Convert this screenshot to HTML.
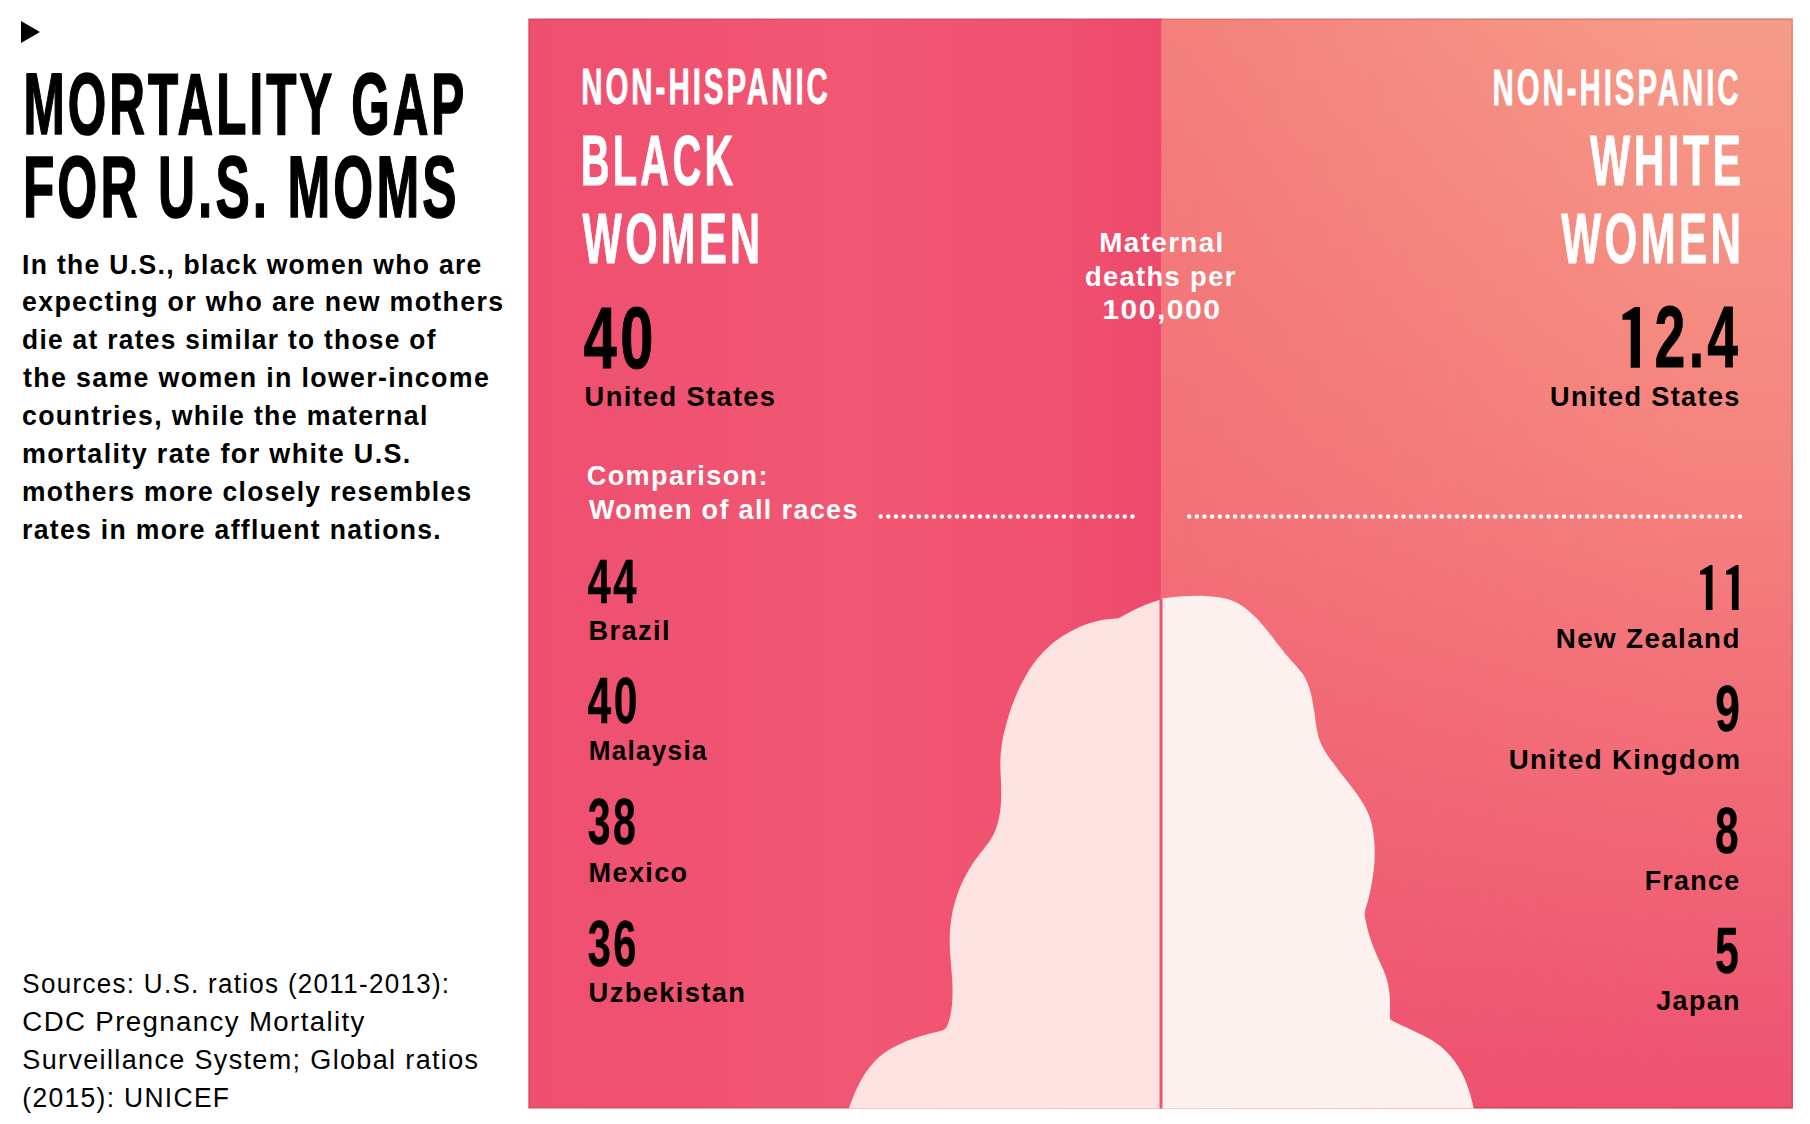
<!DOCTYPE html>
<html><head><meta charset="utf-8"><title>Mortality gap for U.S. moms</title>
<style>
html,body{margin:0;padding:0;background:#fff;width:1810px;height:1124px;overflow:hidden}
svg{display:block;font-family:"Liberation Sans",sans-serif}
</style></head><body>
<svg width="1810" height="1124" viewBox="0 0 1810 1124">
<defs>
<linearGradient id="gl" gradientUnits="userSpaceOnUse" x1="528" y1="0" x2="1160" y2="0">
<stop offset="0" stop-color="#ef4f6f"/>
<stop offset="0.5" stop-color="#f15773"/>
<stop offset="0.8" stop-color="#f05270"/>
<stop offset="1" stop-color="#ee4a6b"/>
</linearGradient>
<linearGradient id="grL" gradientUnits="userSpaceOnUse" x1="0" y1="18" x2="0" y2="1108">
<stop offset="0" stop-color="#f4807c"/>
<stop offset="0.48" stop-color="#f27078"/>
<stop offset="1" stop-color="#ee5270"/>
</linearGradient>
<linearGradient id="grR" gradientUnits="userSpaceOnUse" x1="0" y1="18" x2="0" y2="1108">
<stop offset="0" stop-color="#f69b88"/>
<stop offset="0.4" stop-color="#f5847e"/>
<stop offset="1" stop-color="#ee5170"/>
</linearGradient>
<linearGradient id="gmask" gradientUnits="userSpaceOnUse" x1="1160" y1="0" x2="1793" y2="0">
<stop offset="0" stop-color="#000"/>
<stop offset="0.85" stop-color="#fff"/>
<stop offset="1" stop-color="#fff"/>
</linearGradient>
<mask id="mr" maskUnits="userSpaceOnUse" x="1160" y="0" width="650" height="1124"><rect x="1160" y="0" width="650" height="1124" fill="url(#gmask)"/></mask>
<clipPath id="cl"><rect x="500" y="0" width="660.5" height="1124"/></clipPath>
<clipPath id="cr"><rect x="1160.5" y="0" width="700" height="1124"/></clipPath>
<clipPath id="cpanel"><rect x="528.3" y="18.5" width="1264.7" height="1090"/></clipPath>
<clipPath id="csil"><path d="M1161.0,598.5 C1163.5,598.2 1171.1,597.1 1176.2,596.7 C1181.4,596.2 1186.7,596.0 1192.0,595.9 C1197.3,595.8 1202.9,595.9 1208.0,596.2 C1213.1,596.5 1218.2,597.0 1222.7,597.9 C1227.1,598.8 1230.9,600.0 1234.7,601.7 C1238.5,603.4 1241.8,605.5 1245.4,608.2 C1249.0,610.9 1252.5,614.2 1256.1,617.8 C1259.7,621.4 1263.2,625.8 1266.8,630.1 C1270.3,634.4 1274.0,639.3 1277.4,643.7 C1280.9,648.1 1284.4,652.6 1287.5,656.2 C1290.7,659.9 1293.6,663.0 1296.1,665.9 C1298.6,668.7 1300.6,670.9 1302.5,673.6 C1304.3,676.3 1305.7,679.0 1307.0,681.9 C1308.3,684.8 1309.3,687.8 1310.2,691.1 C1311.1,694.3 1311.8,697.4 1312.5,701.2 C1313.3,705.1 1313.9,709.5 1314.6,714.0 C1315.3,718.5 1315.7,723.5 1316.6,728.0 C1317.5,732.5 1318.2,736.7 1319.8,740.8 C1321.4,745.0 1323.4,748.7 1326.0,752.9 C1328.6,757.0 1331.9,761.2 1335.2,765.7 C1338.5,770.2 1342.4,775.0 1346.0,779.7 C1349.6,784.4 1353.6,789.3 1356.9,794.1 C1360.2,798.9 1363.4,803.5 1365.9,808.5 C1368.4,813.5 1370.3,818.6 1371.7,824.1 C1373.1,829.6 1373.8,836.0 1374.3,841.8 C1374.8,847.5 1374.7,853.5 1374.6,858.7 C1374.4,864.0 1373.9,868.5 1373.3,873.2 C1372.7,877.9 1371.9,882.6 1371.0,887.2 C1370.1,891.8 1369.0,896.5 1368.0,900.8 C1367.0,905.1 1365.0,908.7 1364.8,912.8 C1364.6,916.9 1365.6,920.7 1366.6,925.2 C1367.6,929.7 1369.1,935.0 1370.8,940.0 C1372.5,945.0 1374.8,950.5 1376.8,955.2 C1378.8,959.9 1381.0,964.1 1382.8,968.4 C1384.6,972.7 1386.3,976.6 1387.4,981.2 C1388.5,985.8 1389.2,991.3 1389.7,996.0 C1390.1,1000.7 1390.0,1005.8 1390.1,1009.5 C1390.1,1013.2 1389.6,1016.1 1390.0,1018.0 C1390.4,1019.9 1389.8,1019.1 1392.5,1020.7 C1395.2,1022.3 1401.9,1025.4 1406.5,1027.6 C1411.1,1029.8 1415.7,1031.9 1420.0,1034.0 C1424.3,1036.1 1428.6,1038.1 1432.3,1040.5 C1436.0,1042.8 1439.2,1045.2 1442.3,1047.8 C1445.4,1050.5 1448.1,1053.4 1450.8,1056.5 C1453.4,1059.6 1455.9,1063.0 1458.1,1066.5 C1460.3,1070.0 1462.2,1073.5 1464.1,1077.6 C1465.9,1081.7 1467.6,1086.4 1469.1,1091.1 C1470.6,1095.7 1472.0,1101.3 1473.1,1105.5 C1474.1,1109.6 1475.1,1114.2 1475.5,1116.0 L1475.5,1116 L846.5,1116 L846.5,1116.0 C847.0,1114.4 848.5,1109.6 849.7,1106.1 C851.0,1102.7 852.3,1098.9 853.8,1095.3 C855.3,1091.7 857.0,1088.0 858.8,1084.5 C860.5,1081.1 862.4,1077.7 864.4,1074.5 C866.5,1071.3 868.7,1068.2 871.2,1065.2 C873.6,1062.3 876.3,1059.5 879.2,1056.9 C882.2,1054.4 885.5,1052.0 889.0,1049.8 C892.5,1047.7 896.3,1045.7 900.2,1043.9 C904.0,1042.1 908.1,1040.5 912.1,1039.0 C916.0,1037.6 920.1,1036.4 923.8,1035.3 C927.5,1034.2 931.0,1033.4 934.3,1032.5 C937.6,1031.6 941.1,1031.1 943.3,1030.0 C945.5,1028.9 946.2,1027.9 947.3,1025.6 C948.4,1023.3 949.3,1020.1 950.1,1016.4 C950.9,1012.7 951.7,1008.3 952.1,1003.3 C952.5,998.4 952.6,992.5 952.5,986.8 C952.4,981.1 951.8,975.0 951.4,969.1 C951.0,963.2 950.3,957.3 950.0,951.3 C949.8,945.4 949.5,939.5 949.8,933.6 C950.1,927.6 950.7,921.7 951.8,915.8 C952.8,909.9 954.3,903.9 956.2,898.1 C958.0,892.3 960.4,886.4 962.9,881.1 C965.3,875.8 968.3,870.7 971.0,866.2 C973.7,861.8 976.6,858.0 979.3,854.4 C981.9,850.9 984.5,848.1 986.7,844.9 C989.0,841.7 991.2,838.9 993.0,835.4 C994.7,831.9 996.3,828.2 997.5,824.1 C998.7,820.0 999.6,815.5 1000.2,810.9 C1000.8,806.2 1001.1,801.3 1001.2,796.4 C1001.3,791.6 1001.1,786.6 1001.0,781.8 C1000.8,776.9 1000.4,772.2 1000.4,767.5 C1000.3,762.8 1000.3,758.3 1000.7,753.7 C1001.1,749.1 1001.8,744.4 1002.6,739.8 C1003.4,735.2 1004.6,730.4 1005.8,726.0 C1006.9,721.6 1008.1,717.3 1009.5,713.2 C1010.8,709.0 1012.1,705.1 1013.8,701.0 C1015.4,696.9 1017.2,692.7 1019.1,688.5 C1021.1,684.4 1023.4,680.0 1025.7,676.0 C1028.1,671.9 1030.6,667.9 1033.3,664.1 C1036.0,660.4 1039.0,656.7 1042.1,653.3 C1045.3,649.8 1048.7,646.5 1052.2,643.6 C1055.7,640.7 1059.4,638.0 1063.1,635.7 C1066.8,633.3 1070.6,631.2 1074.3,629.4 C1078.1,627.5 1081.9,625.9 1085.6,624.5 C1089.3,623.2 1093.0,622.0 1096.6,621.2 C1100.2,620.3 1103.8,619.7 1107.3,619.2 C1110.9,618.8 1115.4,618.9 1118.0,618.3 C1120.6,617.7 1121.0,616.8 1123.0,615.7 C1125.1,614.7 1127.5,613.3 1130.2,611.9 C1133.0,610.5 1136.4,608.8 1139.7,607.3 C1143.0,605.9 1146.6,604.4 1150.2,603.1 C1153.7,601.8 1159.2,600.2 1161.0,599.6 Z"/></clipPath>
</defs>
<polygon points="21,21 21,43 40,32" fill="#000"/>
<rect x="528.3" y="18.5" width="632.2" height="1090" fill="url(#gl)"/>
<rect x="1160.5" y="18.5" width="632.5" height="1090" fill="url(#grL)"/>
<rect x="1160.5" y="18.5" width="632.5" height="1090" fill="url(#grR)" mask="url(#mr)"/>
<rect x="1160" y="18.5" width="1" height="1090" fill="#e6506a"/>
<rect x="1161" y="18.5" width="1" height="1090" fill="#ff6c7e"/>
<rect x="529.3" y="19.5" width="1262.7" height="1088" fill="none" stroke="rgba(90,50,55,0.2)" stroke-width="1"/>
<g clip-path="url(#cpanel)">
<path d="M1161.0,598.5 C1163.5,598.2 1171.1,597.1 1176.2,596.7 C1181.4,596.2 1186.7,596.0 1192.0,595.9 C1197.3,595.8 1202.9,595.9 1208.0,596.2 C1213.1,596.5 1218.2,597.0 1222.7,597.9 C1227.1,598.8 1230.9,600.0 1234.7,601.7 C1238.5,603.4 1241.8,605.5 1245.4,608.2 C1249.0,610.9 1252.5,614.2 1256.1,617.8 C1259.7,621.4 1263.2,625.8 1266.8,630.1 C1270.3,634.4 1274.0,639.3 1277.4,643.7 C1280.9,648.1 1284.4,652.6 1287.5,656.2 C1290.7,659.9 1293.6,663.0 1296.1,665.9 C1298.6,668.7 1300.6,670.9 1302.5,673.6 C1304.3,676.3 1305.7,679.0 1307.0,681.9 C1308.3,684.8 1309.3,687.8 1310.2,691.1 C1311.1,694.3 1311.8,697.4 1312.5,701.2 C1313.3,705.1 1313.9,709.5 1314.6,714.0 C1315.3,718.5 1315.7,723.5 1316.6,728.0 C1317.5,732.5 1318.2,736.7 1319.8,740.8 C1321.4,745.0 1323.4,748.7 1326.0,752.9 C1328.6,757.0 1331.9,761.2 1335.2,765.7 C1338.5,770.2 1342.4,775.0 1346.0,779.7 C1349.6,784.4 1353.6,789.3 1356.9,794.1 C1360.2,798.9 1363.4,803.5 1365.9,808.5 C1368.4,813.5 1370.3,818.6 1371.7,824.1 C1373.1,829.6 1373.8,836.0 1374.3,841.8 C1374.8,847.5 1374.7,853.5 1374.6,858.7 C1374.4,864.0 1373.9,868.5 1373.3,873.2 C1372.7,877.9 1371.9,882.6 1371.0,887.2 C1370.1,891.8 1369.0,896.5 1368.0,900.8 C1367.0,905.1 1365.0,908.7 1364.8,912.8 C1364.6,916.9 1365.6,920.7 1366.6,925.2 C1367.6,929.7 1369.1,935.0 1370.8,940.0 C1372.5,945.0 1374.8,950.5 1376.8,955.2 C1378.8,959.9 1381.0,964.1 1382.8,968.4 C1384.6,972.7 1386.3,976.6 1387.4,981.2 C1388.5,985.8 1389.2,991.3 1389.7,996.0 C1390.1,1000.7 1390.0,1005.8 1390.1,1009.5 C1390.1,1013.2 1389.6,1016.1 1390.0,1018.0 C1390.4,1019.9 1389.8,1019.1 1392.5,1020.7 C1395.2,1022.3 1401.9,1025.4 1406.5,1027.6 C1411.1,1029.8 1415.7,1031.9 1420.0,1034.0 C1424.3,1036.1 1428.6,1038.1 1432.3,1040.5 C1436.0,1042.8 1439.2,1045.2 1442.3,1047.8 C1445.4,1050.5 1448.1,1053.4 1450.8,1056.5 C1453.4,1059.6 1455.9,1063.0 1458.1,1066.5 C1460.3,1070.0 1462.2,1073.5 1464.1,1077.6 C1465.9,1081.7 1467.6,1086.4 1469.1,1091.1 C1470.6,1095.7 1472.0,1101.3 1473.1,1105.5 C1474.1,1109.6 1475.1,1114.2 1475.5,1116.0 L1475.5,1116 L846.5,1116 L846.5,1116.0 C847.0,1114.4 848.5,1109.6 849.7,1106.1 C851.0,1102.7 852.3,1098.9 853.8,1095.3 C855.3,1091.7 857.0,1088.0 858.8,1084.5 C860.5,1081.1 862.4,1077.7 864.4,1074.5 C866.5,1071.3 868.7,1068.2 871.2,1065.2 C873.6,1062.3 876.3,1059.5 879.2,1056.9 C882.2,1054.4 885.5,1052.0 889.0,1049.8 C892.5,1047.7 896.3,1045.7 900.2,1043.9 C904.0,1042.1 908.1,1040.5 912.1,1039.0 C916.0,1037.6 920.1,1036.4 923.8,1035.3 C927.5,1034.2 931.0,1033.4 934.3,1032.5 C937.6,1031.6 941.1,1031.1 943.3,1030.0 C945.5,1028.9 946.2,1027.9 947.3,1025.6 C948.4,1023.3 949.3,1020.1 950.1,1016.4 C950.9,1012.7 951.7,1008.3 952.1,1003.3 C952.5,998.4 952.6,992.5 952.5,986.8 C952.4,981.1 951.8,975.0 951.4,969.1 C951.0,963.2 950.3,957.3 950.0,951.3 C949.8,945.4 949.5,939.5 949.8,933.6 C950.1,927.6 950.7,921.7 951.8,915.8 C952.8,909.9 954.3,903.9 956.2,898.1 C958.0,892.3 960.4,886.4 962.9,881.1 C965.3,875.8 968.3,870.7 971.0,866.2 C973.7,861.8 976.6,858.0 979.3,854.4 C981.9,850.9 984.5,848.1 986.7,844.9 C989.0,841.7 991.2,838.9 993.0,835.4 C994.7,831.9 996.3,828.2 997.5,824.1 C998.7,820.0 999.6,815.5 1000.2,810.9 C1000.8,806.2 1001.1,801.3 1001.2,796.4 C1001.3,791.6 1001.1,786.6 1001.0,781.8 C1000.8,776.9 1000.4,772.2 1000.4,767.5 C1000.3,762.8 1000.3,758.3 1000.7,753.7 C1001.1,749.1 1001.8,744.4 1002.6,739.8 C1003.4,735.2 1004.6,730.4 1005.8,726.0 C1006.9,721.6 1008.1,717.3 1009.5,713.2 C1010.8,709.0 1012.1,705.1 1013.8,701.0 C1015.4,696.9 1017.2,692.7 1019.1,688.5 C1021.1,684.4 1023.4,680.0 1025.7,676.0 C1028.1,671.9 1030.6,667.9 1033.3,664.1 C1036.0,660.4 1039.0,656.7 1042.1,653.3 C1045.3,649.8 1048.7,646.5 1052.2,643.6 C1055.7,640.7 1059.4,638.0 1063.1,635.7 C1066.8,633.3 1070.6,631.2 1074.3,629.4 C1078.1,627.5 1081.9,625.9 1085.6,624.5 C1089.3,623.2 1093.0,622.0 1096.6,621.2 C1100.2,620.3 1103.8,619.7 1107.3,619.2 C1110.9,618.8 1115.4,618.9 1118.0,618.3 C1120.6,617.7 1121.0,616.8 1123.0,615.7 C1125.1,614.7 1127.5,613.3 1130.2,611.9 C1133.0,610.5 1136.4,608.8 1139.7,607.3 C1143.0,605.9 1146.6,604.4 1150.2,603.1 C1153.7,601.8 1159.2,600.2 1161.0,599.6 Z" fill="#fde2e2" clip-path="url(#cl)"/>
<path d="M1161.0,598.5 C1163.5,598.2 1171.1,597.1 1176.2,596.7 C1181.4,596.2 1186.7,596.0 1192.0,595.9 C1197.3,595.8 1202.9,595.9 1208.0,596.2 C1213.1,596.5 1218.2,597.0 1222.7,597.9 C1227.1,598.8 1230.9,600.0 1234.7,601.7 C1238.5,603.4 1241.8,605.5 1245.4,608.2 C1249.0,610.9 1252.5,614.2 1256.1,617.8 C1259.7,621.4 1263.2,625.8 1266.8,630.1 C1270.3,634.4 1274.0,639.3 1277.4,643.7 C1280.9,648.1 1284.4,652.6 1287.5,656.2 C1290.7,659.9 1293.6,663.0 1296.1,665.9 C1298.6,668.7 1300.6,670.9 1302.5,673.6 C1304.3,676.3 1305.7,679.0 1307.0,681.9 C1308.3,684.8 1309.3,687.8 1310.2,691.1 C1311.1,694.3 1311.8,697.4 1312.5,701.2 C1313.3,705.1 1313.9,709.5 1314.6,714.0 C1315.3,718.5 1315.7,723.5 1316.6,728.0 C1317.5,732.5 1318.2,736.7 1319.8,740.8 C1321.4,745.0 1323.4,748.7 1326.0,752.9 C1328.6,757.0 1331.9,761.2 1335.2,765.7 C1338.5,770.2 1342.4,775.0 1346.0,779.7 C1349.6,784.4 1353.6,789.3 1356.9,794.1 C1360.2,798.9 1363.4,803.5 1365.9,808.5 C1368.4,813.5 1370.3,818.6 1371.7,824.1 C1373.1,829.6 1373.8,836.0 1374.3,841.8 C1374.8,847.5 1374.7,853.5 1374.6,858.7 C1374.4,864.0 1373.9,868.5 1373.3,873.2 C1372.7,877.9 1371.9,882.6 1371.0,887.2 C1370.1,891.8 1369.0,896.5 1368.0,900.8 C1367.0,905.1 1365.0,908.7 1364.8,912.8 C1364.6,916.9 1365.6,920.7 1366.6,925.2 C1367.6,929.7 1369.1,935.0 1370.8,940.0 C1372.5,945.0 1374.8,950.5 1376.8,955.2 C1378.8,959.9 1381.0,964.1 1382.8,968.4 C1384.6,972.7 1386.3,976.6 1387.4,981.2 C1388.5,985.8 1389.2,991.3 1389.7,996.0 C1390.1,1000.7 1390.0,1005.8 1390.1,1009.5 C1390.1,1013.2 1389.6,1016.1 1390.0,1018.0 C1390.4,1019.9 1389.8,1019.1 1392.5,1020.7 C1395.2,1022.3 1401.9,1025.4 1406.5,1027.6 C1411.1,1029.8 1415.7,1031.9 1420.0,1034.0 C1424.3,1036.1 1428.6,1038.1 1432.3,1040.5 C1436.0,1042.8 1439.2,1045.2 1442.3,1047.8 C1445.4,1050.5 1448.1,1053.4 1450.8,1056.5 C1453.4,1059.6 1455.9,1063.0 1458.1,1066.5 C1460.3,1070.0 1462.2,1073.5 1464.1,1077.6 C1465.9,1081.7 1467.6,1086.4 1469.1,1091.1 C1470.6,1095.7 1472.0,1101.3 1473.1,1105.5 C1474.1,1109.6 1475.1,1114.2 1475.5,1116.0 L1475.5,1116 L846.5,1116 L846.5,1116.0 C847.0,1114.4 848.5,1109.6 849.7,1106.1 C851.0,1102.7 852.3,1098.9 853.8,1095.3 C855.3,1091.7 857.0,1088.0 858.8,1084.5 C860.5,1081.1 862.4,1077.7 864.4,1074.5 C866.5,1071.3 868.7,1068.2 871.2,1065.2 C873.6,1062.3 876.3,1059.5 879.2,1056.9 C882.2,1054.4 885.5,1052.0 889.0,1049.8 C892.5,1047.7 896.3,1045.7 900.2,1043.9 C904.0,1042.1 908.1,1040.5 912.1,1039.0 C916.0,1037.6 920.1,1036.4 923.8,1035.3 C927.5,1034.2 931.0,1033.4 934.3,1032.5 C937.6,1031.6 941.1,1031.1 943.3,1030.0 C945.5,1028.9 946.2,1027.9 947.3,1025.6 C948.4,1023.3 949.3,1020.1 950.1,1016.4 C950.9,1012.7 951.7,1008.3 952.1,1003.3 C952.5,998.4 952.6,992.5 952.5,986.8 C952.4,981.1 951.8,975.0 951.4,969.1 C951.0,963.2 950.3,957.3 950.0,951.3 C949.8,945.4 949.5,939.5 949.8,933.6 C950.1,927.6 950.7,921.7 951.8,915.8 C952.8,909.9 954.3,903.9 956.2,898.1 C958.0,892.3 960.4,886.4 962.9,881.1 C965.3,875.8 968.3,870.7 971.0,866.2 C973.7,861.8 976.6,858.0 979.3,854.4 C981.9,850.9 984.5,848.1 986.7,844.9 C989.0,841.7 991.2,838.9 993.0,835.4 C994.7,831.9 996.3,828.2 997.5,824.1 C998.7,820.0 999.6,815.5 1000.2,810.9 C1000.8,806.2 1001.1,801.3 1001.2,796.4 C1001.3,791.6 1001.1,786.6 1001.0,781.8 C1000.8,776.9 1000.4,772.2 1000.4,767.5 C1000.3,762.8 1000.3,758.3 1000.7,753.7 C1001.1,749.1 1001.8,744.4 1002.6,739.8 C1003.4,735.2 1004.6,730.4 1005.8,726.0 C1006.9,721.6 1008.1,717.3 1009.5,713.2 C1010.8,709.0 1012.1,705.1 1013.8,701.0 C1015.4,696.9 1017.2,692.7 1019.1,688.5 C1021.1,684.4 1023.4,680.0 1025.7,676.0 C1028.1,671.9 1030.6,667.9 1033.3,664.1 C1036.0,660.4 1039.0,656.7 1042.1,653.3 C1045.3,649.8 1048.7,646.5 1052.2,643.6 C1055.7,640.7 1059.4,638.0 1063.1,635.7 C1066.8,633.3 1070.6,631.2 1074.3,629.4 C1078.1,627.5 1081.9,625.9 1085.6,624.5 C1089.3,623.2 1093.0,622.0 1096.6,621.2 C1100.2,620.3 1103.8,619.7 1107.3,619.2 C1110.9,618.8 1115.4,618.9 1118.0,618.3 C1120.6,617.7 1121.0,616.8 1123.0,615.7 C1125.1,614.7 1127.5,613.3 1130.2,611.9 C1133.0,610.5 1136.4,608.8 1139.7,607.3 C1143.0,605.9 1146.6,604.4 1150.2,603.1 C1153.7,601.8 1159.2,600.2 1161.0,599.6 Z" fill="#fdf1f0" clip-path="url(#cr)"/>
<rect x="1159.5" y="560" width="3" height="560" fill="#e9566d" clip-path="url(#csil)"/>
</g>
<g fill="#000">
<polygon points="1622.4,314.7 1634.7,307 1640,307 1640,367.7 1630.7,367.7 1630.7,319.7 1622.4,319.7"/>
<polygon points="1700.1,570.9 1710.2,565.1 1712.5,565.1 1712.5,609.9 1705.9,609.9 1705.9,574.4 1700.1,574.4"/>
<polygon points="1726.1,570.9 1736.2,565.1 1738.6,565.1 1738.6,609.9 1731.9,609.9 1731.9,574.4 1726.1,574.4"/>
</g>
<g fill="#fff"><circle cx="880.70" cy="516.5" r="2.2"/><circle cx="888.33" cy="516.5" r="2.2"/><circle cx="895.96" cy="516.5" r="2.2"/><circle cx="903.59" cy="516.5" r="2.2"/><circle cx="911.22" cy="516.5" r="2.2"/><circle cx="918.85" cy="516.5" r="2.2"/><circle cx="926.48" cy="516.5" r="2.2"/><circle cx="934.11" cy="516.5" r="2.2"/><circle cx="941.74" cy="516.5" r="2.2"/><circle cx="949.37" cy="516.5" r="2.2"/><circle cx="957.00" cy="516.5" r="2.2"/><circle cx="964.63" cy="516.5" r="2.2"/><circle cx="972.26" cy="516.5" r="2.2"/><circle cx="979.89" cy="516.5" r="2.2"/><circle cx="987.52" cy="516.5" r="2.2"/><circle cx="995.15" cy="516.5" r="2.2"/><circle cx="1002.78" cy="516.5" r="2.2"/><circle cx="1010.42" cy="516.5" r="2.2"/><circle cx="1018.05" cy="516.5" r="2.2"/><circle cx="1025.68" cy="516.5" r="2.2"/><circle cx="1033.31" cy="516.5" r="2.2"/><circle cx="1040.94" cy="516.5" r="2.2"/><circle cx="1048.57" cy="516.5" r="2.2"/><circle cx="1056.20" cy="516.5" r="2.2"/><circle cx="1063.83" cy="516.5" r="2.2"/><circle cx="1071.46" cy="516.5" r="2.2"/><circle cx="1079.09" cy="516.5" r="2.2"/><circle cx="1086.72" cy="516.5" r="2.2"/><circle cx="1094.35" cy="516.5" r="2.2"/><circle cx="1101.98" cy="516.5" r="2.2"/><circle cx="1109.61" cy="516.5" r="2.2"/><circle cx="1117.24" cy="516.5" r="2.2"/><circle cx="1124.87" cy="516.5" r="2.2"/><circle cx="1132.50" cy="516.5" r="2.2"/><circle cx="1189.20" cy="516.5" r="2.2"/><circle cx="1196.85" cy="516.5" r="2.2"/><circle cx="1204.50" cy="516.5" r="2.2"/><circle cx="1212.15" cy="516.5" r="2.2"/><circle cx="1219.80" cy="516.5" r="2.2"/><circle cx="1227.45" cy="516.5" r="2.2"/><circle cx="1235.10" cy="516.5" r="2.2"/><circle cx="1242.75" cy="516.5" r="2.2"/><circle cx="1250.40" cy="516.5" r="2.2"/><circle cx="1258.05" cy="516.5" r="2.2"/><circle cx="1265.70" cy="516.5" r="2.2"/><circle cx="1273.35" cy="516.5" r="2.2"/><circle cx="1281.00" cy="516.5" r="2.2"/><circle cx="1288.65" cy="516.5" r="2.2"/><circle cx="1296.30" cy="516.5" r="2.2"/><circle cx="1303.95" cy="516.5" r="2.2"/><circle cx="1311.60" cy="516.5" r="2.2"/><circle cx="1319.25" cy="516.5" r="2.2"/><circle cx="1326.90" cy="516.5" r="2.2"/><circle cx="1334.55" cy="516.5" r="2.2"/><circle cx="1342.20" cy="516.5" r="2.2"/><circle cx="1349.85" cy="516.5" r="2.2"/><circle cx="1357.50" cy="516.5" r="2.2"/><circle cx="1365.15" cy="516.5" r="2.2"/><circle cx="1372.80" cy="516.5" r="2.2"/><circle cx="1380.45" cy="516.5" r="2.2"/><circle cx="1388.10" cy="516.5" r="2.2"/><circle cx="1395.75" cy="516.5" r="2.2"/><circle cx="1403.40" cy="516.5" r="2.2"/><circle cx="1411.05" cy="516.5" r="2.2"/><circle cx="1418.70" cy="516.5" r="2.2"/><circle cx="1426.35" cy="516.5" r="2.2"/><circle cx="1434.00" cy="516.5" r="2.2"/><circle cx="1441.65" cy="516.5" r="2.2"/><circle cx="1449.30" cy="516.5" r="2.2"/><circle cx="1456.95" cy="516.5" r="2.2"/><circle cx="1464.60" cy="516.5" r="2.2"/><circle cx="1472.25" cy="516.5" r="2.2"/><circle cx="1479.90" cy="516.5" r="2.2"/><circle cx="1487.55" cy="516.5" r="2.2"/><circle cx="1495.20" cy="516.5" r="2.2"/><circle cx="1502.85" cy="516.5" r="2.2"/><circle cx="1510.50" cy="516.5" r="2.2"/><circle cx="1518.15" cy="516.5" r="2.2"/><circle cx="1525.80" cy="516.5" r="2.2"/><circle cx="1533.45" cy="516.5" r="2.2"/><circle cx="1541.10" cy="516.5" r="2.2"/><circle cx="1548.75" cy="516.5" r="2.2"/><circle cx="1556.40" cy="516.5" r="2.2"/><circle cx="1564.05" cy="516.5" r="2.2"/><circle cx="1571.70" cy="516.5" r="2.2"/><circle cx="1579.35" cy="516.5" r="2.2"/><circle cx="1587.00" cy="516.5" r="2.2"/><circle cx="1594.65" cy="516.5" r="2.2"/><circle cx="1602.30" cy="516.5" r="2.2"/><circle cx="1609.95" cy="516.5" r="2.2"/><circle cx="1617.60" cy="516.5" r="2.2"/><circle cx="1625.25" cy="516.5" r="2.2"/><circle cx="1632.90" cy="516.5" r="2.2"/><circle cx="1640.55" cy="516.5" r="2.2"/><circle cx="1648.20" cy="516.5" r="2.2"/><circle cx="1655.85" cy="516.5" r="2.2"/><circle cx="1663.50" cy="516.5" r="2.2"/><circle cx="1671.15" cy="516.5" r="2.2"/><circle cx="1678.80" cy="516.5" r="2.2"/><circle cx="1686.45" cy="516.5" r="2.2"/><circle cx="1694.10" cy="516.5" r="2.2"/><circle cx="1701.75" cy="516.5" r="2.2"/><circle cx="1709.40" cy="516.5" r="2.2"/><circle cx="1717.05" cy="516.5" r="2.2"/><circle cx="1724.70" cy="516.5" r="2.2"/><circle cx="1732.35" cy="516.5" r="2.2"/><circle cx="1740.00" cy="516.5" r="2.2"/></g>
<text id="t1" x="23.61" y="134.20" font-size="86.34" font-weight="700" fill="#000" stroke="#000" stroke-width="1.6" stroke-linejoin="round" letter-spacing="5.18" textLength="443.74" lengthAdjust="spacingAndGlyphs">MORTALITY GAP</text>
<text id="t2" x="22.90" y="216.70" font-size="86.34" font-weight="700" fill="#000" stroke="#000" stroke-width="1.6" stroke-linejoin="round" letter-spacing="5.18" textLength="436.69" lengthAdjust="spacingAndGlyphs">FOR U.S. MOMS</text>
<text id="b1" x="22.04" y="273.50" font-size="28.20" font-weight="700" fill="#000" letter-spacing="1.41" textLength="460.65" lengthAdjust="spacingAndGlyphs">In the U.S., black women who are</text>
<text id="b2" x="22.03" y="311.40" font-size="28.20" font-weight="700" fill="#000" letter-spacing="1.41" textLength="482.37" lengthAdjust="spacingAndGlyphs">expecting or who are new mothers</text>
<text id="b3" x="22.05" y="349.30" font-size="28.20" font-weight="700" fill="#000" letter-spacing="1.41" textLength="414.72" lengthAdjust="spacingAndGlyphs">die at rates similar to those of</text>
<text id="b4" x="23.00" y="387.20" font-size="28.20" font-weight="700" fill="#000" letter-spacing="1.41" textLength="467.11" lengthAdjust="spacingAndGlyphs">the same women in lower-income</text>
<text id="b5" x="22.03" y="425.10" font-size="28.20" font-weight="700" fill="#000" letter-spacing="1.41" textLength="406.64" lengthAdjust="spacingAndGlyphs">countries, while the maternal</text>
<text id="b6" x="22.03" y="463.00" font-size="28.20" font-weight="700" fill="#000" letter-spacing="1.41" textLength="389.68" lengthAdjust="spacingAndGlyphs">mortality rate for white U.S.</text>
<text id="b7" x="22.05" y="500.90" font-size="28.20" font-weight="700" fill="#000" letter-spacing="1.41" textLength="450.44" lengthAdjust="spacingAndGlyphs">mothers more closely resembles</text>
<text id="b8" x="22.04" y="538.80" font-size="28.20" font-weight="700" fill="#000" letter-spacing="1.41" textLength="420.01" lengthAdjust="spacingAndGlyphs">rates in more affluent nations.</text>
<text id="s1" x="22.36" y="992.80" font-size="27.62" font-weight="400" fill="#000" letter-spacing="1.38" textLength="428.01" lengthAdjust="spacingAndGlyphs">Sources: U.S. ratios (2011-2013):</text>
<text id="s2" x="22.30" y="1031.00" font-size="27.62" font-weight="400" fill="#000" letter-spacing="1.38" textLength="343.49" lengthAdjust="spacingAndGlyphs">CDC Pregnancy Mortality</text>
<text id="s3" x="22.32" y="1069.00" font-size="27.62" font-weight="400" fill="#000" letter-spacing="1.38" textLength="457.12" lengthAdjust="spacingAndGlyphs">Surveillance System; Global ratios</text>
<text id="s4" x="22.34" y="1107.00" font-size="27.62" font-weight="400" fill="#000" letter-spacing="1.38" textLength="208.01" lengthAdjust="spacingAndGlyphs">(2015): UNICEF</text>
<text id="nh1" x="581.18" y="104.40" font-size="50.29" font-weight="700" fill="#fff" stroke="#fff" stroke-width="0.8" stroke-linejoin="round" letter-spacing="5.03" textLength="249.63" lengthAdjust="spacingAndGlyphs">NON-HISPANIC</text>
<text id="bl" x="580.76" y="184.50" font-size="69.77" font-weight="700" fill="#fff" stroke="#fff" stroke-width="1.0" stroke-linejoin="round" letter-spacing="5.58" textLength="155.68" lengthAdjust="spacingAndGlyphs">BLACK</text>
<text id="wo1" x="582.50" y="263.30" font-size="69.77" font-weight="700" fill="#fff" stroke="#fff" stroke-width="1.0" stroke-linejoin="round" letter-spacing="5.58" textLength="180.92" lengthAdjust="spacingAndGlyphs">WOMEN</text>
<text id="n40" x="583.58" y="367.85" font-size="87.36" font-weight="700" fill="#000" stroke="#000" stroke-width="0.9" stroke-linejoin="round" letter-spacing="5.24" textLength="73.58" lengthAdjust="spacingAndGlyphs">40</text>
<text id="us1" x="584.62" y="405.60" font-size="28.20" font-weight="700" fill="#000" letter-spacing="1.41" textLength="191.72" lengthAdjust="spacingAndGlyphs">United States</text>
<text id="cmp" x="586.77" y="484.60" font-size="26.74" font-weight="700" fill="#fff" letter-spacing="1.34" textLength="182.09" lengthAdjust="spacingAndGlyphs">Comparison:</text>
<text id="wor" x="589.00" y="519.00" font-size="26.74" font-weight="700" fill="#fff" letter-spacing="1.34" textLength="269.84" lengthAdjust="spacingAndGlyphs">Women of all races</text>
<text id="n44" x="587.40" y="602.60" font-size="63.37" font-weight="700" fill="#000" stroke="#000" stroke-width="0.4" stroke-linejoin="round" letter-spacing="3.80" textLength="51.52" lengthAdjust="spacingAndGlyphs">44</text>
<text id="br" x="588.62" y="639.60" font-size="28.20" font-weight="700" fill="#000" letter-spacing="1.41" textLength="82.21" lengthAdjust="spacingAndGlyphs">Brazil</text>
<text id="n40b" x="587.40" y="723.00" font-size="64.83" font-weight="700" fill="#000" stroke="#000" stroke-width="0.4" stroke-linejoin="round" letter-spacing="3.89" textLength="52.50" lengthAdjust="spacingAndGlyphs">40</text>
<text id="ma" x="588.66" y="760.40" font-size="28.20" font-weight="700" fill="#000" letter-spacing="1.41" textLength="119.06" lengthAdjust="spacingAndGlyphs">Malaysia</text>
<text id="n38" x="587.67" y="843.80" font-size="64.83" font-weight="700" fill="#000" stroke="#000" stroke-width="0.4" stroke-linejoin="round" letter-spacing="3.89" textLength="50.55" lengthAdjust="spacingAndGlyphs">38</text>
<text id="me" x="588.62" y="881.60" font-size="28.20" font-weight="700" fill="#000" letter-spacing="1.41" textLength="99.91" lengthAdjust="spacingAndGlyphs">Mexico</text>
<text id="n36" x="587.66" y="965.50" font-size="64.83" font-weight="700" fill="#000" stroke="#000" stroke-width="0.4" stroke-linejoin="round" letter-spacing="3.89" textLength="51.24" lengthAdjust="spacingAndGlyphs">36</text>
<text id="uz" x="588.61" y="1002.00" font-size="28.20" font-weight="700" fill="#000" letter-spacing="1.41" textLength="157.63" lengthAdjust="spacingAndGlyphs">Uzbekistan</text>
<text id="mat" x="1099.30" y="251.80" font-size="28.20" font-weight="700" fill="#fff" letter-spacing="1.41" textLength="125.40" lengthAdjust="spacingAndGlyphs">Maternal</text>
<text id="dp" x="1084.91" y="285.60" font-size="28.20" font-weight="700" fill="#fff" letter-spacing="1.41" textLength="151.83" lengthAdjust="spacingAndGlyphs">deaths per</text>
<text id="hk" x="1102.21" y="319.40" font-size="28.20" font-weight="700" fill="#fff" letter-spacing="1.41" textLength="119.41" lengthAdjust="spacingAndGlyphs">100,000</text>
<text id="nh2" x="1492.58" y="104.50" font-size="50.29" font-weight="700" fill="#fff" stroke="#fff" stroke-width="0.8" stroke-linejoin="round" letter-spacing="5.03" textLength="248.92" lengthAdjust="spacingAndGlyphs">NON-HISPANIC</text>
<text id="wh" x="1590.00" y="184.50" font-size="69.77" font-weight="700" fill="#fff" stroke="#fff" stroke-width="1.0" stroke-linejoin="round" letter-spacing="5.58" textLength="154.41" lengthAdjust="spacingAndGlyphs">WHITE</text>
<text id="wo2" x="1561.30" y="263.40" font-size="69.77" font-weight="700" fill="#fff" stroke="#fff" stroke-width="1.0" stroke-linejoin="round" letter-spacing="5.58" textLength="183.10" lengthAdjust="spacingAndGlyphs">WOMEN</text>
<text id="n124" x="1654.58" y="367.25" font-size="87.36" font-weight="700" fill="#000" stroke="#000" stroke-width="0.9" stroke-linejoin="round" letter-spacing="5.24" textLength="86.88" lengthAdjust="spacingAndGlyphs">2.4</text>
<text id="us2" x="1550.02" y="405.90" font-size="28.20" font-weight="700" fill="#000" letter-spacing="1.41" textLength="190.71" lengthAdjust="spacingAndGlyphs">United States</text>
<text id="nz" x="1555.70" y="647.80" font-size="28.20" font-weight="700" fill="#000" letter-spacing="1.41" textLength="185.09" lengthAdjust="spacingAndGlyphs">New Zealand</text>
<text id="n9" x="1715.24" y="731.40" font-size="64.83" font-weight="700" fill="#000" stroke="#000" stroke-width="0.4" stroke-linejoin="round" letter-spacing="3.89" textLength="27.32" lengthAdjust="spacingAndGlyphs">9</text>
<text id="uk" x="1508.70" y="769.00" font-size="28.20" font-weight="700" fill="#000" letter-spacing="1.41" textLength="232.76" lengthAdjust="spacingAndGlyphs">United Kingdom</text>
<text id="n8" x="1714.90" y="852.80" font-size="64.83" font-weight="700" fill="#000" stroke="#000" stroke-width="0.4" stroke-linejoin="round" letter-spacing="3.89" textLength="26.13" lengthAdjust="spacingAndGlyphs">8</text>
<text id="fr" x="1644.63" y="889.90" font-size="28.20" font-weight="700" fill="#000" letter-spacing="1.41" textLength="95.98" lengthAdjust="spacingAndGlyphs">France</text>
<text id="n5" x="1714.89" y="973.30" font-size="64.83" font-weight="700" fill="#000" stroke="#000" stroke-width="0.4" stroke-linejoin="round" letter-spacing="3.89" textLength="26.37" lengthAdjust="spacingAndGlyphs">5</text>
<text id="jp" x="1656.30" y="1009.80" font-size="28.20" font-weight="700" fill="#000" letter-spacing="1.41" textLength="84.41" lengthAdjust="spacingAndGlyphs">Japan</text>
</svg>
</body></html>
